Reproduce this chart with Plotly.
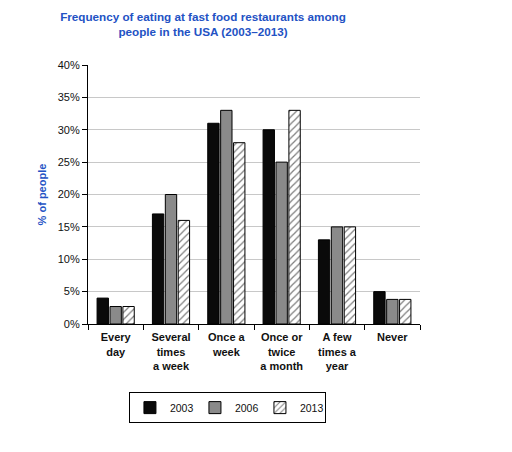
import plotly.graph_objects as go

categories = ["Every<br>day", "Several<br>times<br>a week", "Once a<br>week",
              "Once or<br>twice<br>a month", "A few<br>times a<br>year", "Never"]
years = ["2003", "2006", "2013"]
v2003 = [4, 17, 31, 30, 13, 5]
v2006 = [2.7, 20, 33, 25, 15, 3.8]
v2013 = [2.7, 16, 28, 33, 15, 3.8]
y_ticks = [0, 5, 10, 15, 20, 25, 30, 35, 40]
y_labels = [f"{t}%" for t in y_ticks]

fig = go.Figure()
fig.add_bar(name=years[0], x=categories, y=v2003,
            marker=dict(color="#0a0a0a", line=dict(color="#000", width=1)))
fig.add_bar(name=years[1], x=categories, y=v2006,
            marker=dict(color="#8a8a8a", line=dict(color="#000", width=1)))
fig.add_bar(name=years[2], x=categories, y=v2013,
            marker=dict(color="white", line=dict(color="#000", width=1),
                        pattern=dict(shape="/", fgcolor="#000", bgcolor="white",
                                     size=5, solidity=0.25)))

fig.update_layout(
    width=512, height=452,
    paper_bgcolor="white", plot_bgcolor="white",
    margin=dict(l=80, r=100, t=57, b=136),
    barmode="group", bargap=0.3, bargroupgap=0.12,
    font=dict(family="Liberation Sans, Arial, sans-serif", size=11, color="#111"),
    title=dict(text="<b>Frequency of eating at fast food restaurants among<br>people in the USA (2003–2013)</b>",
               x=195/512, xanchor="center", y=0.972, yanchor="top",
               font=dict(size=11.7, color="#2352C4")),
    legend=dict(orientation="h", x=0.42, xanchor="center", y=-0.263, yanchor="top",
                bordercolor="#000", borderwidth=1, bgcolor="white",
                font=dict(size=10.5, color="#111"), itemwidth=30,
                entrywidth=20, entrywidthmode="pixels",
                traceorder="normal"),
    showlegend=True,
)
fig.update_xaxes(showline=True, linecolor="#000", linewidth=1.2,
                 ticks="outside", tickson="boundaries", ticklen=5, tickcolor="#000",
                 ticklabelstandoff=3,
                 tickfont=dict(size=11, color="#111", family="Liberation Sans, Arial, sans-serif"),
                 tickprefix="<b>", ticksuffix="</b>")
fig.update_yaxes(range=[0, 40], tickvals=y_ticks, ticktext=y_labels,
                 showline=True, linecolor="#000", linewidth=1.2,
                 ticks="outside", ticklen=5, tickcolor="#000",
                 showgrid=True, gridcolor="#c8c8c8", gridwidth=1,
                 zeroline=False,
                 title=dict(text="<b>% of people</b>", standoff=8,
                            font=dict(size=11, color="#2352C4")),
                 tickfont=dict(size=11, color="#111"))

fig.write_html("out.html")
